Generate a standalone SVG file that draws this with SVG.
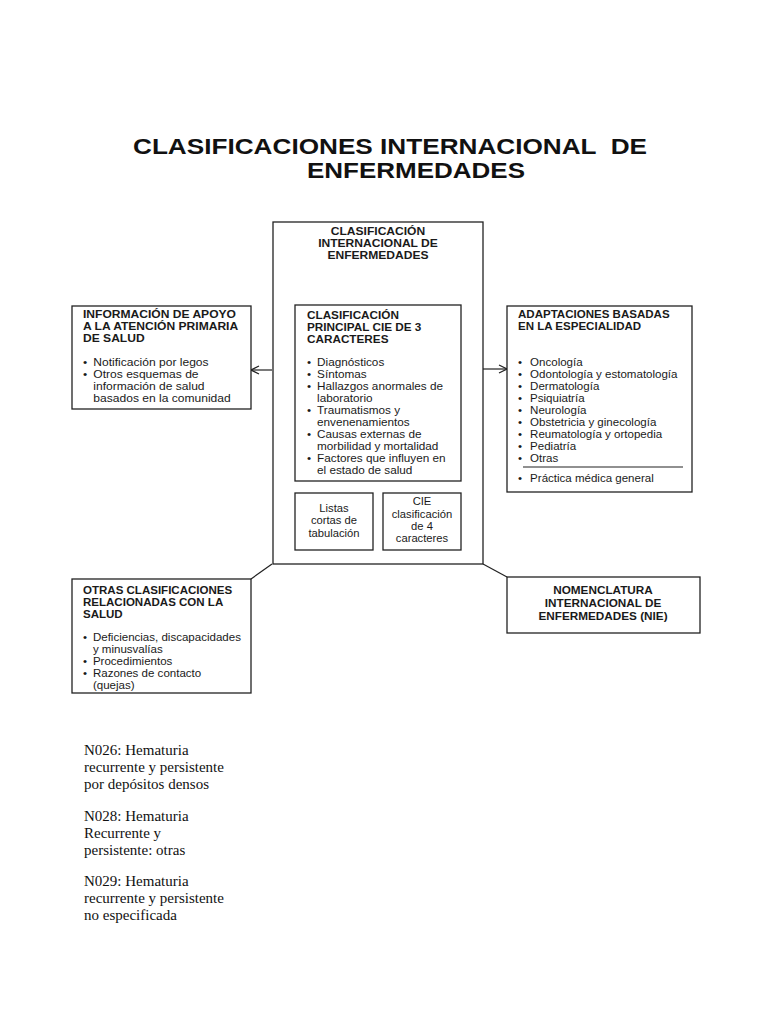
<svg xmlns="http://www.w3.org/2000/svg" width="768" height="1024" viewBox="0 0 768 1024">
<style>
.box{fill:#fff;stroke:#222;stroke-width:1.3}
.ln{fill:none;stroke:#222;stroke-width:1.2}
.t{font-family:"Liberation Sans",Arial,sans-serif;font-size:10.5px;fill:#1a1a1a}
.b{font-weight:bold}
.c{text-anchor:middle}
.ttl{font-family:"Liberation Sans",Arial,sans-serif;font-size:22.8px;font-weight:bold;fill:#111}
.s{font-family:"Liberation Serif","Times New Roman",serif;font-size:15px;fill:#111}
</style>
<defs>
<marker id="ah" markerWidth="10" markerHeight="10" refX="9" refY="5" orient="auto" markerUnits="userSpaceOnUse">
<path d="M1,1 L9,5 L1,9" fill="none" stroke="#222" stroke-width="1.2"/>
</marker>
</defs>
<rect width="768" height="1024" fill="#fff"/>
<g id="title">
<text class="ttl" x="133" y="154" textLength="514" lengthAdjust="spacingAndGlyphs" xml:space="preserve">CLASIFICACIONES INTERNACIONAL  DE</text>
<text class="ttl" x="307" y="178" textLength="218" lengthAdjust="spacingAndGlyphs">ENFERMEDADES</text>
</g>
<g id="connectors">
<line class="ln" x1="272" y1="370" x2="251" y2="370" marker-end="url(#ah)"/>
<line class="ln" x1="483" y1="369" x2="507" y2="369" marker-end="url(#ah)"/>
<line class="ln" x1="334" y1="481" x2="334" y2="493" marker-end="url(#ah)"/>
<line class="ln" x1="421" y1="481" x2="421" y2="493" marker-end="url(#ah)"/>
<line class="ln" x1="272" y1="564" x2="251" y2="579"/>
<line class="ln" x1="483" y1="564" x2="507" y2="577"/>
</g>
<g id="cie">
<rect class="box" x="273" y="222" width="210" height="342"/>
<g transform="matrix(1.15,0,0,1,-56.7,0)">
<text class="t b c" x="378" y="235">CLASIFICACIÓN</text>
<text class="t b c" x="378" y="247">INTERNACIONAL DE</text>
<text class="t b c" x="378" y="259">ENFERMEDADES</text>
</g>
</g>
<g id="principal">
<rect class="box" x="295" y="305" width="166" height="176"/>
<g transform="matrix(1.12,0,0,1,-36.84,0)">
<text class="t b" x="307" y="319">CLASIFICACIÓN</text>
<text class="t b" x="307" y="331">PRINCIPAL CIE DE 3</text>
<text class="t b" x="307" y="343">CARACTERES</text>
<g class="t">
<text x="307" y="366">•</text><text x="316" y="366">Diagnósticos</text>
<text x="307" y="378">•</text><text x="316" y="378">Síntomas</text>
<text x="307" y="390">•</text><text x="316" y="390">Hallazgos anormales de</text>
<text x="316" y="402">laboratorio</text>
<text x="307" y="414">•</text><text x="316" y="414">Traumatismos y</text>
<text x="316" y="426">envenenamientos</text>
<text x="307" y="438">•</text><text x="316" y="438">Causas externas de</text>
<text x="316" y="450">morbilidad y mortalidad</text>
<text x="307" y="462">•</text><text x="316" y="462">Factores que influyen en</text>
<text x="316" y="474">el estado de salud</text>
</g>
</g>
</g>
<g id="listas">
<rect class="box" x="295" y="493" width="78" height="57"/>
<g transform="matrix(1.07,0,0,1,-23.38,0)">
<text class="t c" x="334" y="512">Listas</text>
<text class="t c" x="334" y="524">cortas de</text>
<text class="t c" x="334" y="537">tabulación</text>
</g>
</g>
<g id="cie4">
<rect class="box" x="383" y="493" width="78" height="57"/>
<g transform="matrix(1.07,0,0,1,-29.54,0)">
<text class="t c" x="422" y="505">CIE</text>
<text class="t c" x="422" y="518">clasificación</text>
<text class="t c" x="422" y="530">de 4</text>
<text class="t c" x="422" y="542">caracteres</text>
</g>
</g>
<g id="apoyo">
<rect class="box" x="72" y="306" width="179" height="103"/>
<g transform="matrix(1.15,0,0,1,-12.45,0)">
<text class="t b" x="83" y="318">INFORMACIÓN DE APOYO</text>
<text class="t b" x="83" y="330">A LA ATENCIÓN PRIMARIA</text>
<text class="t b" x="83" y="342">DE SALUD</text>
<g class="t">
<text x="83" y="366">•</text><text x="92" y="366">Notificación por legos</text>
<text x="83" y="378">•</text><text x="92" y="378">Otros esquemas de</text>
<text x="92" y="390">información de salud</text>
<text x="92" y="402">basados en la comunidad</text>
</g>
</g>
</g>
<g id="adaptaciones">
<rect class="box" x="507" y="306" width="185" height="186"/>
<g transform="matrix(1.1,0,0,1,-51.8,0)">
<text class="t b" x="518" y="318">ADAPTACIONES BASADAS</text>
<text class="t b" x="518" y="330">EN LA ESPECIALIDAD</text>
<g class="t">
<text x="518" y="366">•</text><text x="529" y="366">Oncología</text>
<text x="518" y="378">•</text><text x="529" y="378">Odontología y estomatología</text>
<text x="518" y="390">•</text><text x="529" y="390">Dermatología</text>
<text x="518" y="402">•</text><text x="529" y="402">Psiquiatría</text>
<text x="518" y="414">•</text><text x="529" y="414">Neurología</text>
<text x="518" y="426">•</text><text x="529" y="426">Obstetricia y ginecología</text>
<text x="518" y="438">•</text><text x="529" y="438">Reumatología y ortopedia</text>
<text x="518" y="450">•</text><text x="529" y="450">Pediatría</text>
<text x="518" y="462">•</text><text x="529" y="462">Otras</text>
<text x="518" y="482">•</text><text x="529" y="482">Práctica médica general</text>
</g>
</g>
<line class="ln" x1="523" y1="467" x2="683" y2="467"/>
</g>
<g id="otras">
<rect class="box" x="72" y="579" width="179" height="114"/>
<g transform="matrix(1.1,0,0,1,-8.3,0)">
<text class="t b" x="83" y="594">OTRAS CLASIFICACIONES</text>
<text class="t b" x="83" y="606">RELACIONADAS CON LA</text>
<text class="t b" x="83" y="618">SALUD</text>
<g class="t">
<text x="83" y="641">•</text><text x="92" y="641">Deficiencias, discapacidades</text>
<text x="92" y="653">y minusvalías</text>
<text x="83" y="665">•</text><text x="92" y="665">Procedimientos</text>
<text x="83" y="677">•</text><text x="92" y="677">Razones de contacto</text>
<text x="92" y="689">(quejas)</text>
</g>
</g>
</g>
<g id="nie">
<rect class="box" x="507" y="577" width="193" height="56"/>
<g transform="matrix(1.12,0,0,1,-72.36,0)">
<text class="t b c" x="603" y="594">NOMENCLATURA</text>
<text class="t b c" x="603" y="607">INTERNACIONAL DE</text>
<text class="t b c" x="603" y="620">ENFERMEDADES (NIE)</text>
</g>
</g>
<g id="notes">
<text class="s" x="84" y="755">N026: Hematuria</text>
<text class="s" x="84" y="772">recurrente y persistente</text>
<text class="s" x="84" y="789">por depósitos densos</text>
<text class="s" x="84" y="821">N028: Hematuria</text>
<text class="s" x="84" y="838">Recurrente y</text>
<text class="s" x="84" y="855">persistente: otras</text>
<text class="s" x="84" y="886">N029: Hematuria</text>
<text class="s" x="84" y="903">recurrente y persistente</text>
<text class="s" x="84" y="920">no especificada</text>
</g>
</svg>
